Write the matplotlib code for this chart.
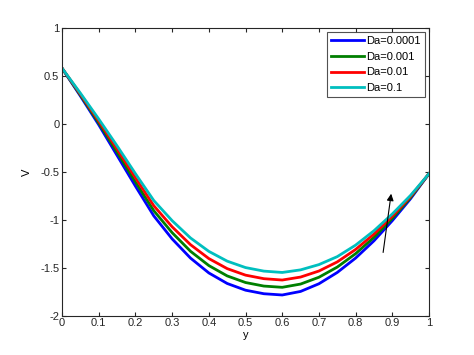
import numpy as np
import matplotlib.pyplot as plt

plt.rcParams['font.family'] = ['Liberation Sans', 'DejaVu Sans']

# data
y = [0, 0.05, 0.1, 0.15, 0.2, 0.25, 0.3, 0.35, 0.4, 0.45, 0.5,
     0.55, 0.6, 0.65, 0.7, 0.75, 0.8, 0.85, 0.9, 0.95, 1.0]
v_da0001 = [0.58, 0.29, -0.01, -0.33, -0.65, -0.96, -1.20, -1.40, -1.555, -1.665, -1.735,
            -1.772, -1.785, -1.748, -1.668, -1.55, -1.40, -1.22, -1.01, -0.78, -0.52]
v_da001 = [0.58, 0.30, 0.01, -0.296, -0.606, -0.906, -1.135, -1.329, -1.478, -1.586, -1.655,
           -1.692, -1.705, -1.671, -1.600, -1.494, -1.354, -1.184, -0.986, -0.768, -0.52]
v_da01 = [0.58, 0.31, 0.03, -0.263, -0.563, -0.854, -1.074, -1.26, -1.405, -1.51, -1.578,
          -1.615, -1.629, -1.598, -1.535, -1.44, -1.31, -1.15, -0.963, -0.757, -0.52]
v_da1 = [0.58, 0.32, 0.05, -0.23, -0.52, -0.80, -1.01, -1.19, -1.33, -1.432, -1.499,
         -1.536, -1.55, -1.523, -1.468, -1.385, -1.265, -1.115, -0.94, -0.745, -0.52]
labels = ['Da=0.0001', 'Da=0.001', 'Da=0.01', 'Da=0.1']
colors = ['#0000ff', '#007f00', '#ff0000', '#00bfbf']

fig = plt.figure(figsize=(4.74, 3.55), dpi=100)
ax = fig.add_axes([0.131, 0.111, 0.774, 0.81])

for vals, lab, col in zip([v_da0001, v_da001, v_da01, v_da1], labels, colors):
    ax.plot(y, vals, color=col, linewidth=2, label=lab, solid_joinstyle='round')

# arrow showing increasing Da
ax.annotate('', xy=(0.898, -0.70), xytext=(0.874, -1.37),
            arrowprops=dict(arrowstyle='-|>', color='black', lw=0.8,
                            mutation_scale=10))

ax.set_xlim(0, 1)
ax.set_ylim(-2, 1)
ax.set_xticks(np.arange(0, 1.01, 0.1))
ax.set_xticklabels(['0', '0.1', '0.2', '0.3', '0.4', '0.5', '0.6', '0.7', '0.8', '0.9', '1'])
ax.set_yticks([-2, -1.5, -1, -0.5, 0, 0.5, 1])
ax.set_yticklabels(['-2', '-1.5', '-1', '-0.5', '0', '0.5', '1'])
ax.tick_params(direction='in', top=True, right=True, labelsize=8, length=3, pad=2,
               colors='#262626')
for s in ax.spines.values():
    s.set_linewidth(0.8)
    s.set_color('#262626')
ax.set_xlabel('y', fontsize=8, labelpad=1)
ax.set_ylabel('V', fontsize=8, labelpad=6)

leg = ax.legend(loc='upper right', fontsize=8, frameon=True, fancybox=False,
                edgecolor='#262626', borderpad=0.35, labelspacing=0.5,
                handlelength=3.0, handletextpad=0.2, borderaxespad=0.4)
leg.get_frame().set_linewidth(0.8)

fig.savefig('out.png', dpi=100)
